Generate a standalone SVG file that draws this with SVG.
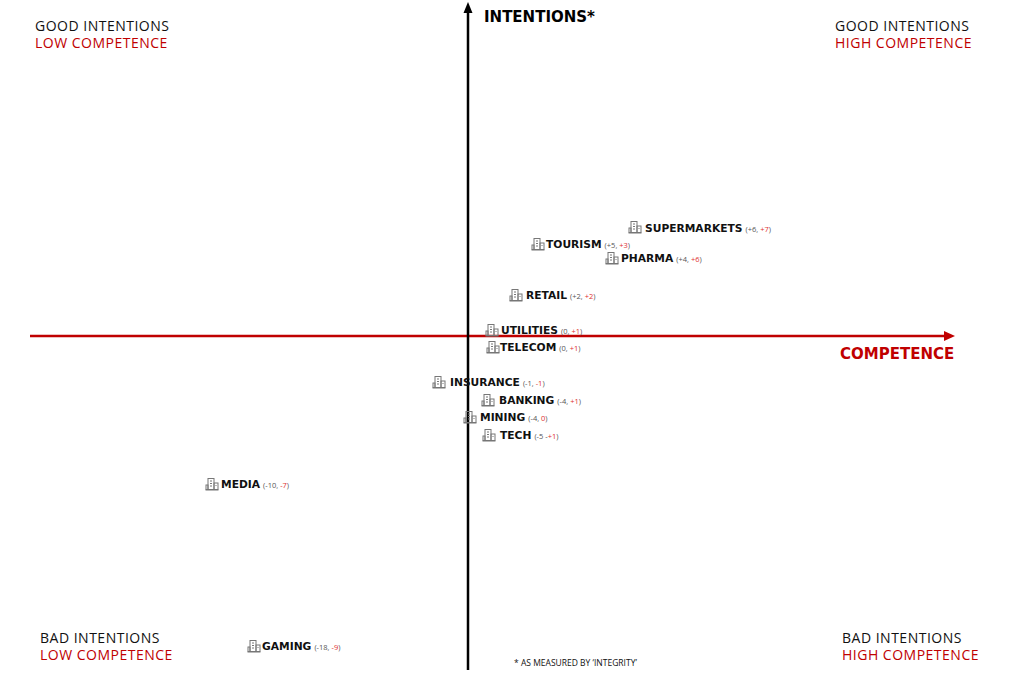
<svg xmlns="http://www.w3.org/2000/svg" width="1024" height="681" viewBox="0 0 1024 681">
<style>
.c{font-family:"Open Sans","Liberation Sans",sans-serif;font-size:14px;letter-spacing:0.5px;fill:#111}
.r{fill:#c00000}
.n{font-family:"DejaVu Sans","Liberation Sans",sans-serif;font-weight:bold;font-size:10.7px;fill:#111}
.v{font-family:"Open Sans","Liberation Sans",sans-serif;font-weight:normal;font-size:7.5px;fill:#555}
.vr{fill:#e03030}
.ax{font-family:"DejaVu Sans","Liberation Sans",sans-serif;font-weight:bold;font-size:15px}
</style>
<defs>
<symbol id="b" viewBox="0 0 14 14">
<g fill="none" stroke="#777" stroke-width="1">
<rect x="3" y="1.5" width="6" height="11"/><rect x="9" y="6" width="4" height="6.5"/><rect x="1" y="8" width="2" height="4.5"/>
<path d="M5 4h2M5 6.5h2M5 9h2M10.5 8.5h1M0.5 13h13"/>
</g>
</symbol>
</defs>
<rect width="1024" height="681" fill="#fff"/>
<g id="connectors">
<line x1="30" y1="336" x2="948" y2="336" stroke="#c00000" stroke-width="2.5"/>
<path d="M944 331L955 336L944 341z" fill="#c00000"/>
<line x1="468" y1="670" x2="468" y2="10" stroke="#000" stroke-width="2.5"/>
<path d="M463.5 13L468 2L472.5 13z" fill="#000"/>
</g>
<g id="labels">
<text class="c" x="35" y="31">GOOD INTENTIONS</text><text class="c r" x="35" y="48">LOW COMPETENCE</text>
<text class="c" x="835" y="31">GOOD INTENTIONS</text><text class="c r" x="835" y="48">HIGH COMPETENCE</text>
<text class="c" x="40" y="643">BAD INTENTIONS</text><text class="c r" x="40" y="660">LOW COMPETENCE</text>
<text class="c" x="842" y="643">BAD INTENTIONS</text><text class="c r" x="842" y="660">HIGH COMPETENCE</text>
<text class="ax" x="484" y="22" fill="#000">INTENTIONS*</text>
<text class="ax" x="840" y="359" fill="#c00000">COMPETENCE</text>
<text class="v" x="514" y="666" style="font-size:8.5px;fill:#111">* AS MEASURED BY ‘INTEGRITY’</text>
</g>
<g id="supermarkets"><use href="#b" x="628" y="220" width="14" height="14"/><text class="n" x="645" y="232">SUPERMARKETS<tspan class="v" dx="3">(+6, <tspan class="vr">+7</tspan>)</tspan></text></g>
<g id="tourism"><use href="#b" x="531" y="237" width="14" height="14"/><text class="n" x="546" y="248">TOURISM<tspan class="v" dx="3">(+5, <tspan class="vr">+3</tspan>)</tspan></text></g>
<g id="pharma"><use href="#b" x="605" y="251" width="14" height="14"/><text class="n" x="621" y="262">PHARMA<tspan class="v" dx="3">(+4, <tspan class="vr">+6</tspan>)</tspan></text></g>
<g id="retail"><use href="#b" x="509" y="288" width="14" height="14"/><text class="n" x="526" y="299">RETAIL<tspan class="v" dx="3">(+2, <tspan class="vr">+2</tspan>)</tspan></text></g>
<g id="utilities"><use href="#b" x="485" y="323" width="14" height="14"/><text class="n" x="501" y="334">UTILITIES<tspan class="v" dx="3">(0, <tspan class="vr">+1</tspan>)</tspan></text></g>
<g id="telecom"><use href="#b" x="486" y="340" width="14" height="14"/><text class="n" x="500" y="351">TELECOM<tspan class="v" dx="3">(0, <tspan class="vr">+1</tspan>)</tspan></text></g>
<g id="insurance"><use href="#b" x="432" y="375" width="14" height="14"/><text class="n" x="450" y="386">INSURANCE<tspan class="v" dx="3">(-1, <tspan class="vr">-1</tspan>)</tspan></text></g>
<g id="banking"><use href="#b" x="481" y="393" width="14" height="14"/><text class="n" x="499" y="404">BANKING<tspan class="v" dx="3">(-4, <tspan class="vr">+1</tspan>)</tspan></text></g>
<g id="mining"><use href="#b" x="463" y="410" width="14" height="14"/><text class="n" x="480" y="421">MINING<tspan class="v" dx="3">(-4, <tspan class="vr">0</tspan>)</tspan></text></g>
<g id="tech"><use href="#b" x="482" y="428" width="14" height="14"/><text class="n" x="500" y="439">TECH<tspan class="v" dx="3">(-5 -<tspan class="vr">+1</tspan>)</tspan></text></g>
<g id="media"><use href="#b" x="205" y="477" width="14" height="14"/><text class="n" x="221" y="488">MEDIA<tspan class="v" dx="3">(-10, <tspan class="vr">-7</tspan>)</tspan></text></g>
<g id="gaming"><use href="#b" x="247" y="639" width="14" height="14"/><text class="n" x="262" y="650">GAMING<tspan class="v" dx="3">(-18, <tspan class="vr">-9</tspan>)</tspan></text></g>
</svg>
